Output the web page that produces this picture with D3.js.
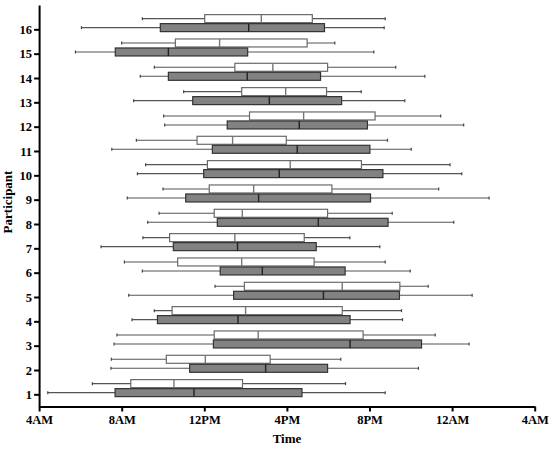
<!DOCTYPE html>
<html>
	<head>
		<script type="text/javascript" src="https://cdn.jsdelivr.net/npm/d3@7"></script>
		<style>
body {
	margin: 0;
	background-color: white;
}

.axis path, .axis line {
	stroke: black;
	stroke-width: 2;
}

.axis text {
	font-family: "Liberation Serif", "DejaVu Serif", serif;
	font-weight: bold;
	font-size: 12.5px;
	fill: black;
}

text.title {
	font-family: "Liberation Serif", "DejaVu Serif", serif;
	font-weight: bold;
	font-size: 13px;
	text-anchor: middle;
	fill: black;
}
		</style>
	</head>
	<body>
		<script>

// participants on the y axis
var participants = [1, 2, 3, 4, 5, 6, 7, 8, 9, 10, 11, 12, 13, 14, 15, 16];

// hours of day, values past 24 are after midnight
var timeTicks = [4, 8, 12, 16, 20, 24, 28];
var timeLabels = ["4AM", "8AM", "12PM", "4PM", "8PM", "12AM", "4AM"];

// white series (upper box)
var whiteMin = [6.58, 7.50, 7.77, 9.58, 12.52, 8.13, 9.03, 9.81, 10.00, 9.16, 8.71, 10.03, 11.00, 9.58, 8.00, 9.00];
var whiteQ1  = [8.44, 10.16, 12.48, 10.44, 13.94, 10.71, 10.32, 12.48, 12.24, 12.15, 11.65, 14.19, 13.81, 13.48, 10.60, 12.02];
var whiteMed = [10.53, 12.05, 14.61, 14.00, 18.68, 13.81, 13.48, 13.84, 14.39, 16.16, 13.37, 16.81, 15.94, 15.32, 12.74, 14.76];
var whiteQ3  = [13.85, 15.19, 19.69, 18.68, 21.47, 17.32, 16.84, 17.97, 18.18, 19.61, 15.97, 20.27, 17.92, 17.97, 16.98, 17.23];
var whiteMax = [18.84, 18.61, 23.18, 21.55, 22.84, 20.76, 19.05, 21.10, 23.35, 23.90, 20.87, 23.45, 19.60, 21.27, 18.32, 20.76];

// gray series (lower box)
var grayMin = [4.42, 7.48, 7.63, 8.50, 8.34, 9.00, 7.00, 9.26, 8.27, 8.76, 7.52, 10.08, 8.58, 8.90, 5.76, 6.05];
var grayQ1  = [7.68, 11.29, 12.44, 9.73, 13.42, 12.77, 10.50, 12.63, 11.10, 11.97, 12.39, 13.11, 11.44, 10.26, 7.69, 9.87];
var grayMed = [11.50, 14.97, 19.06, 13.63, 17.77, 14.81, 13.61, 17.52, 14.63, 15.63, 16.50, 16.60, 15.15, 14.08, 10.26, 14.15];
var grayQ3  = [16.73, 17.97, 22.52, 19.06, 21.45, 18.82, 17.42, 20.90, 20.05, 20.65, 20.02, 19.90, 18.65, 17.63, 14.10, 17.82];
var grayMax = [20.76, 22.37, 24.82, 21.60, 24.97, 21.97, 20.50, 24.08, 25.79, 24.47, 22.02, 24.56, 21.71, 22.68, 20.21, 20.71];

var w = 550;
var h = 449;

var boxH = 8;
var capH = 3;

var svg = d3.select("body").append("svg")
	.attr("width", w)
	.attr("height", h);

var x = d3.scaleLinear().domain([4, 28]).range([39.1, 534.7]);
var y = d3.scaleLinear().domain([0.5, 17]).range([406.5, 5]);

function makeRows(mins, q1s, meds, q3s, maxs) {
	return participants.map(function(p, i) {
		return {p: p, min: mins[i], q1: q1s[i], med: meds[i], q3: q3s[i], max: maxs[i]};
	});
}

var series = [
	{name: "white", offset: 0.44, fill: "#ffffff", stroke: "#6a6a6a", medStroke: "#777777",
		rows: makeRows(whiteMin, whiteQ1, whiteMed, whiteQ3, whiteMax)},
	{name: "gray", offset: 0.07, fill: "#828282", stroke: "#333333", medStroke: "#222222",
		rows: makeRows(grayMin, grayQ1, grayMed, grayQ3, grayMax)}
];

series.forEach(function(s) {
	var g = svg.append("g").attr("class", "series-" + s.name);
	function cy(d) { return y(d.p + s.offset); }

	var row = g.selectAll("g.row").data(s.rows).enter().append("g").attr("class", "row");

	// whisker line
	row.append("line")
		.attr("x1", function(d) { return x(d.min); })
		.attr("x2", function(d) { return x(d.max); })
		.attr("y1", cy)
		.attr("y2", cy)
		.style("stroke", "#555")
		.style("stroke-width", 1.1);

	// caps
	row.append("line")
		.attr("x1", function(d) { return x(d.min); })
		.attr("x2", function(d) { return x(d.min); })
		.attr("y1", function(d) { return cy(d) - capH / 2; })
		.attr("y2", function(d) { return cy(d) + capH / 2; })
		.style("stroke", "#444")
		.style("stroke-width", 1.2);
	row.append("line")
		.attr("x1", function(d) { return x(d.max); })
		.attr("x2", function(d) { return x(d.max); })
		.attr("y1", function(d) { return cy(d) - capH / 2; })
		.attr("y2", function(d) { return cy(d) + capH / 2; })
		.style("stroke", "#444")
		.style("stroke-width", 1.2);

	// box
	row.append("rect")
		.attr("x", function(d) { return x(d.q1); })
		.attr("y", function(d) { return cy(d) - boxH / 2; })
		.attr("width", function(d) { return x(d.q3) - x(d.q1); })
		.attr("height", boxH)
		.style("fill", s.fill)
		.style("stroke", s.stroke)
		.style("stroke-width", 1.2);

	// median
	row.append("line")
		.attr("x1", function(d) { return x(d.med); })
		.attr("x2", function(d) { return x(d.med); })
		.attr("y1", function(d) { return cy(d) - boxH / 2; })
		.attr("y2", function(d) { return cy(d) + boxH / 2; })
		.style("stroke", s.medStroke)
		.style("stroke-width", 1.4);
});

var xAxis = d3.axisBottom(x)
	.tickValues(timeTicks)
	.tickFormat(function(d, i) { return timeLabels[i]; })
	.tickSize(5)
	.tickSizeOuter(0)
	.tickPadding(4);

svg.append("g").attr("class", "axis")
	.attr("transform", "translate(0," + y(0.5) + ")")
	.call(xAxis);

var yAxis = d3.axisLeft(y)
	.tickValues(participants)
	.tickFormat(d3.format("d"))
	.tickSize(5)
	.tickSizeOuter(0)
	.tickPadding(2);

svg.append("g").attr("class", "axis")
	.attr("transform", "translate(" + x(4) + ",0)")
	.call(yAxis);

svg.append("text").attr("class", "title")
	.attr("x", 287)
	.attr("y", 443)
	.text("Time");

svg.append("text").attr("class", "title")
	.attr("transform", "translate(12,202) rotate(-90)")
	.text("Participant");

		</script>
	</body>
</html>
